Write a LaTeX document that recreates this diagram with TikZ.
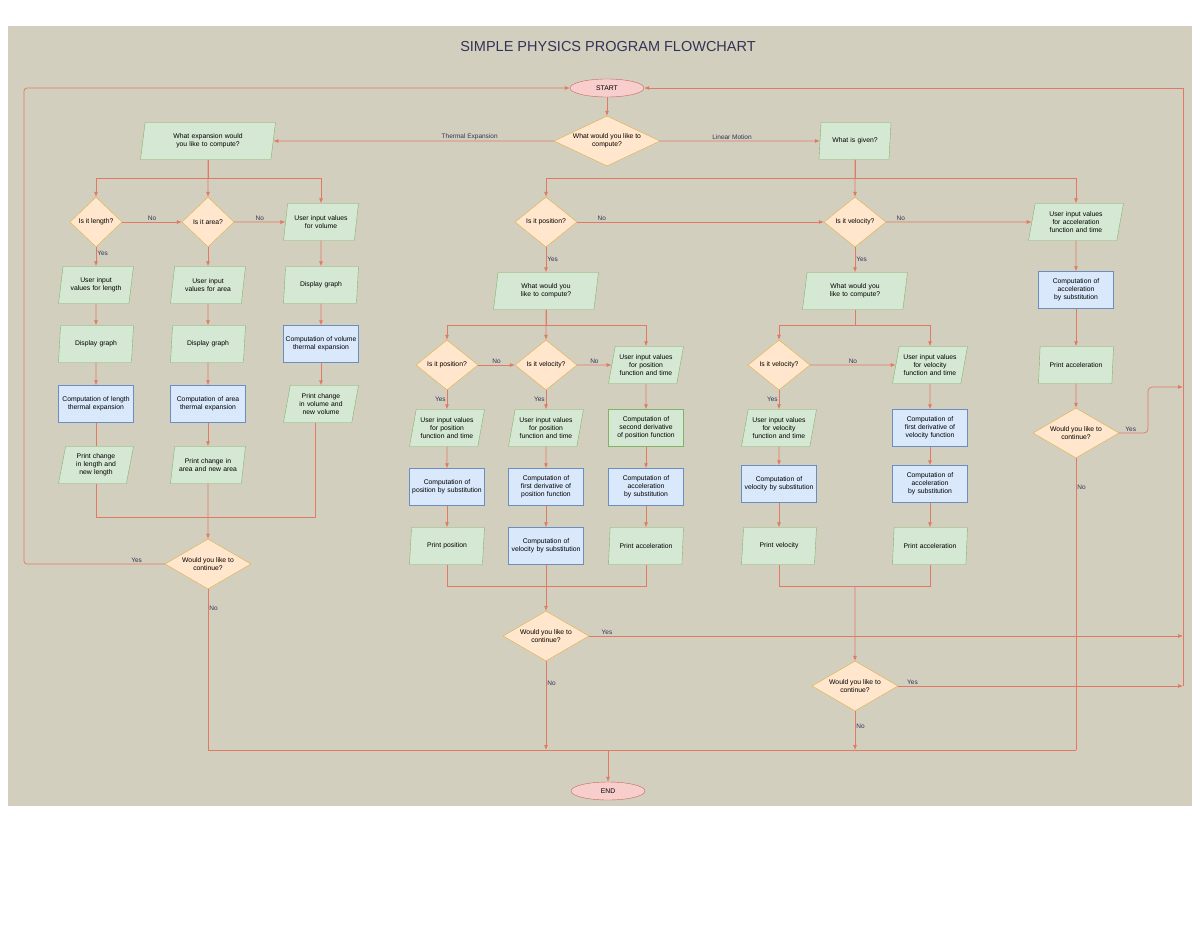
\documentclass[tikz,border=0pt]{standalone}
\usepackage{fontspec}
\setmainfont{Liberation Sans}
\usetikzlibrary{shapes.geometric,arrows.meta}
\definecolor{bgc}{HTML}{D3CFBF}
\definecolor{gfill}{HTML}{D5E8D4}\definecolor{gdraw}{HTML}{82B366}
\definecolor{bfill}{HTML}{DAE8FC}\definecolor{bdraw}{HTML}{6C8EBF}
\definecolor{dfill}{HTML}{FFE6CC}\definecolor{ddraw}{HTML}{E0B040}
\definecolor{sfill}{HTML}{F8CECC}\definecolor{sdraw}{HTML}{C86460}
\definecolor{lnc}{HTML}{E07A62}
\definecolor{lblc}{HTML}{333355}
\hyphenpenalty=10000 \exhyphenpenalty=10000 \lefthyphenmin=64
\begin{document}
\begin{tikzpicture}[x=1pt,y=-1pt,
  every node/.style={font=\fontsize{6.8}{7.8}\selectfont,align=center,inner sep=1pt},
  every label/.style={font=\fontsize{6.8}{7.8}\selectfont,align=center,inner sep=0pt},
  para/.style={trapezium,trapezium left angle=72,trapezium right angle=108,trapezium stretches body,draw=gdraw,fill=gfill,minimum width=75pt,minimum height=37pt,inner sep=0pt,text width=58pt},
  wpara/.style={para,minimum width=#1pt,text width=#1pt-18pt},
  brect/.style={rectangle,draw=bdraw,fill=bfill,minimum width=75pt,minimum height=37pt,text width=72pt},
  grect/.style={brect,draw=gdraw,fill=gfill},
  dia/.style={diamond,draw=ddraw,fill=dfill,minimum width=#1pt,minimum height=50pt,inner sep=0pt},
  term/.style={ellipse,draw=sdraw,fill=sfill,minimum width=74pt,minimum height=18pt},
  ln/.style={draw=lnc,line width=0.7pt},
  arr/.style={ln,-{Latex[length=5pt,width=4pt]}},
  lbl/.style={text=lblc,font=\fontsize{6.5}{7}\selectfont}]
\useasboundingbox (0,0) rectangle (1200,935);
\fill[bgc] (8,26) rectangle (1192,806);
\node[text=lblc,font=\fontsize{14.5}{16}\selectfont] (title) at (608,47) {SIMPLE PHYSICS PROGRAM FLOWCHART};
% top
\node[term] (start) at (607,88) {START};
\node[dia=106,label={center:What would you like to\\compute?}] (q1) at (607,141) {};
\node[wpara=135] (therm) at (208,141) {What expansion would you like to compute?};
\node[wpara=72] (given) at (855,141) {What is given?};
% thermal branch
\node[dia=52,label={center:Is it length?}] (len) at (96,222) {};
\node[dia=52,label={center:Is it area?}] (area) at (208,222) {};
\node[para] (vol) at (321,222) {User input values for volume};
\node[para] (inlen) at (96,285) {User input values for length};
\node[para] (inarea) at (208,285) {User input values for area};
\node[para] (dgv) at (321,285) {Display graph};
\node[para] (dgl) at (96,344) {Display graph};
\node[para] (dga) at (208,344) {Display graph};
\node[brect] (cvol) at (321,344) {Computation of volume thermal expansion};
\node[brect] (clen) at (96,404) {Computation of length thermal expansion};
\node[brect] (carea) at (208,404) {Computation of area thermal expansion};
\node[para] (pvol) at (321,404) {Print change in volume and new volume};
\node[para] (plen) at (96,465) {Print change in length and new length};
\node[para] (parea) at (208,465) {Print change in area and new area};
\node[dia=86,label={center:Would you like to\\continue?}] (c1) at (208,564) {};
% linear branch
\node[dia=62,label={center:Is it position?}] (ipos) at (546,222) {};
\node[dia=62,label={center:Is it velocity?}] (ivel) at (855,222) {};
\node[wpara=95] (inacc) at (1076,222) {User input values for acceleration function and time};
\node[wpara=105] (wp) at (546,291) {What would you like to compute?};
\node[wpara=105] (wv) at (855,291) {What would you like to compute?};
\node[dia=62,label={center:Is it position?}] (pp) at (447,365) {};
\node[dia=62,label={center:Is it velocity?}] (pv) at (546,365) {};
\node[para] (pa) at (646,365) {User input values for position function and time};
\node[para] (pp1) at (447,428) {User input values for position function and time};
\node[para] (pv1) at (546,428) {User input values for position function and time};
\node[grect] (pa1) at (646,428) {Computation of second derivative of position function};
\node[brect] (pp2) at (447,487) {Computation of position by substitution};
\node[brect] (pv2) at (546,487) {Computation of first derivative of position function};
\node[brect] (pa2) at (646,487) {Computation of acceleration by substitution};
\node[para] (pp3) at (447,546) {Print position};
\node[brect] (pv3) at (546,546) {Computation of velocity by substitution};
\node[para] (pa3) at (646,546) {Print acceleration};
\node[dia=86,label={center:Would you like to\\continue?}] (c2) at (546,636) {};
\node[dia=62,label={center:Is it velocity?}] (vv) at (779,365) {};
\node[para] (va) at (930,365) {User input values for velocity function and time};
\node[para] (vv1) at (779,428) {User input values for velocity function and time};
\node[brect] (va1) at (930,428) {Computation of first derivative of velocity function};
\node[brect] (vv2) at (779,484) {Computation of velocity by substitution};
\node[brect] (va2) at (930,484) {Computation of acceleration by substitution};
\node[para] (vv3) at (779,546) {Print velocity};
\node[para] (va3) at (930,546) {Print acceleration};
\node[dia=86,label={center:Would you like to\\continue?}] (c4) at (855,686) {};
\node[brect] (ac1) at (1076,290) {Computation of acceleration by substitution};
\node[para] (ac2) at (1076,365) {Print acceleration};
\node[dia=86,label={center:Would you like to\\continue?}] (c3) at (1076,433) {};
\node[term] (end) at (608,791) {END};
% coordinates
\coordinate (lt) at (24,88);
\coordinate (rt) at (1183,88);
\coordinate (rb) at (1183,686);
\coordinate (bl) at (208,750);
\coordinate (br) at (1076,750);
\coordinate (c3k) at (1148,433);
\coordinate (c3t) at (1183,387);
% connectors top
\draw[arr] (start) -- (q1);
\draw[arr] (q1.west) -- node[lbl,above,pos=0.3]{Thermal Expansion} (therm.east);
\draw[arr] (q1.east) -- node[lbl,above,pos=0.45]{Linear Motion} (given);
\draw[arr,rounded corners=3pt] (c1.west) -- node[lbl,above,pos=0.2]{Yes} (c1.west -| lt) -- (lt) -- (start.west);
\draw[ln] (rb) -- (rt);
\draw[arr] (rt) -- (start.east);
% thermal
\draw[arr] (therm.south) -- (therm.south |- 0,178) -| (len.north);
\draw[arr] (therm.south) -- (area.north);
\draw[arr] (therm.south |- 0,178) -| (vol.north);
\draw[arr] (len) -- node[lbl,above]{No} (area);
\draw[arr] (area) -- node[lbl,above]{No} (vol);
\draw[arr] (len) -- node[lbl,right,pos=0.3]{Yes} (inlen);
\draw[arr] (area) -- (inarea);
\draw[arr] (vol) -- (dgv);
\draw[arr] (inlen) -- (dgl);
\draw[arr] (inarea) -- (dga);
\draw[arr] (dgv) -- (cvol);
\draw[arr] (dgl) -- (clen);
\draw[arr] (dga) -- (carea);
\draw[arr] (cvol) -- (pvol);
\draw[ln] (clen) -- (plen);
\draw[arr] (carea) -- (parea);
\draw[ln] (plen.south) -- (plen.south |- 0,517) -- (315,517) -- (315,0 |- pvol.south);
\draw[arr] (parea) -- (c1);
\draw[ln] (c1.south) -- node[lbl,right,pos=0.12]{No} (bl) -- (br);
% linear
\draw[arr] (given.south) -- (given.south |- 0,178) -| (ipos.north);
\draw[arr] (given.south) -- (ivel.north);
\draw[arr] (given.south |- 0,178) -| (inacc.north);
\draw[arr] (ipos) -- node[lbl,above,pos=0.1]{No} (ivel);
\draw[arr] (ivel) -- node[lbl,above,pos=0.1]{No} (inacc);
\draw[arr] (ipos) -- node[lbl,right]{Yes} (wp);
\draw[arr] (ivel) -- node[lbl,right]{Yes} (wv);
\draw[arr] (wp.south) -- (wp.south |- 0,325) -| (pp.north);
\draw[arr] (wp.south) -- (pv.north);
\draw[arr] (wp.south |- 0,325) -| (pa.north);
\draw[arr] (pp) -- node[lbl,above]{No} (pv);
\draw[arr] (pv) -- node[lbl,above]{No} (pa);
\draw[arr] (pp) -- node[lbl,left]{Yes} (pp1);
\draw[arr] (pv) -- node[lbl,left]{Yes} (pv1);
\draw[arr] (pa) -- (pa1);
\draw[arr] (pp1) -- (pp2); \draw[arr] (pv1) -- (pv2); \draw[arr] (pa1) -- (pa2);
\draw[arr] (pp2) -- (pp3); \draw[arr] (pv2) -- (pv3); \draw[arr] (pa2) -- (pa3);
\draw[ln] (pp3.south) -- (pp3.south |- 0,586) -| (pa3.south);
\draw[arr] (pv3) -- (c2);
\draw[arr] (c2.east) -- node[lbl,above,pos=0.03]{Yes} (c2.east -| rt);
\draw[arr] (c2.south) -- node[lbl,right,pos=0.25]{No} (c2.south |- bl);
\draw[arr] (wv.south) -- (wv.south |- 0,325) -| (vv.north);
\draw[arr] (wv.south |- 0,325) -| (va.north);
\draw[arr] (vv) -- node[lbl,above]{No} (va);
\draw[arr] (vv) -- node[lbl,left]{Yes} (vv1);
\draw[arr] (va) -- (va1);
\draw[arr] (vv1) -- (vv2); \draw[arr] (va1) -- (va2);
\draw[arr] (vv2) -- (vv3); \draw[arr] (va2) -- (va3);
\draw[ln] (vv3.south) -- (vv3.south |- 0,586) -| (va3.south);
\draw[arr] (wv.south |- 0,586) -- (c4.north);
\draw[arr] (c4.east) -- node[lbl,above,pos=0.05]{Yes} (c4.east -| rt);
\draw[arr] (c4.south) -- node[lbl,right,pos=0.4]{No} (c4.south |- bl);
\draw[arr] (inacc) -- (ac1);
\draw[arr] (ac1) -- (ac2);
\draw[arr] (ac2) -- (c3);
\draw[arr,rounded corners=4pt] (c3.east) -- node[lbl,above,pos=0.4]{Yes} (c3k) -- (c3k |- c3t) -- (c3t);
\draw[ln] (c3.south) -- node[lbl,right,pos=0.1]{No} (br);
\draw[arr] (608,750) coordinate (em) -- (end.north);
\end{tikzpicture}
\end{document}
